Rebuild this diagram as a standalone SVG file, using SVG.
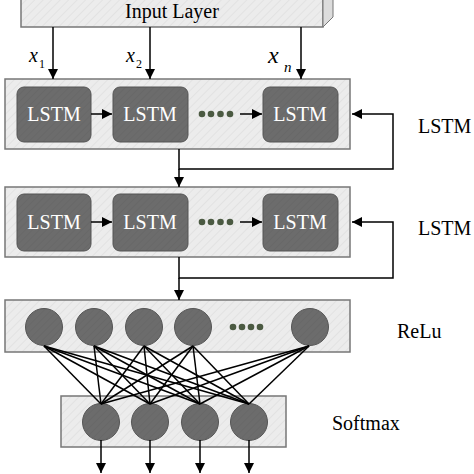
<svg xmlns="http://www.w3.org/2000/svg" width="474" height="474" viewBox="0 0 474 474">
<defs>
<pattern id="hatch" width="6" height="6" patternUnits="userSpaceOnUse" patternTransform="rotate(45)">
<rect width="6" height="6" fill="#ececec"/>
<line x1="0" y1="0" x2="0" y2="6" stroke="#e2e2e2" stroke-width="2"/>
</pattern>
<pattern id="dhatch" width="5" height="5" patternUnits="userSpaceOnUse" patternTransform="rotate(45)">
<rect width="5" height="5" fill="#6c6c6c"/>
<line x1="0" y1="0" x2="0" y2="5" stroke="#666" stroke-width="1.5"/>
</pattern>
<marker id="ah" viewBox="0 0 10 10" refX="10" refY="5" markerWidth="10" markerHeight="10" markerUnits="userSpaceOnUse" orient="auto">
<path d="M0,0 L10,5 L0,10 z" fill="#000"/>
</marker>
</defs>
<style>
.layer{fill:url(#hatch);stroke:#777;stroke-width:1.5}
.cell{fill:url(#dhatch);stroke:#555;stroke-width:1}
.cell-t{font-family:"Liberation Serif","Times New Roman",serif;font-size:20px;fill:#fff;text-anchor:middle}
.lbl{font-family:"Liberation Serif","Times New Roman",serif;font-size:20px;fill:#000}
.neu{fill:url(#dhatch);stroke:#555;stroke-width:1}
.dot{fill:#4b5a42}
.con{stroke:#000;stroke-width:1.5;fill:none}
.arr{stroke:#000;stroke-width:1.5;fill:none;marker-end:url(#ah)}
.xl{font-family:"Liberation Serif","Times New Roman",serif;font-style:italic;fill:#000}
.sub{font-family:"Liberation Serif","Times New Roman",serif;font-style:normal;fill:#000}
</style>

<g id="input-layer">
<rect class="layer" x="21" y="-10" width="302" height="37"/>
<polygon points="323,-10 333,-16 333,17 323,27" fill="#dcdcdc" stroke="#777" stroke-width="1"/>
<text class="lbl" x="172" y="18" font-size="20" text-anchor="middle">Input Layer</text>
</g>

<g id="input-labels">
<text class="xl" x="29" y="62" font-size="20">x</text><text class="sub" x="39" y="68" font-size="12">1</text>
<text class="xl" x="126" y="62" font-size="20">x</text><text class="sub" x="136" y="68" font-size="12">2</text>
<text class="xl" x="268" y="63" font-size="24">x</text><text class="xl" x="284" y="72" font-size="15">n</text>
</g>

<g id="lstm-layer-1">
<rect class="layer" x="5" y="79" width="345" height="70"/>
<rect class="cell" x="17" y="87" width="74" height="55" rx="7"/>
<text class="cell-t" x="54" y="121">LSTM</text>
<rect class="cell" x="113" y="87" width="75" height="55" rx="7"/>
<text class="cell-t" x="150" y="121">LSTM</text>
<rect class="cell" x="263" y="87" width="75" height="55" rx="7"/>
<text class="cell-t" x="300" y="121">LSTM</text>
<circle class="dot" cx="202" cy="114" r="3.3"/><circle class="dot" cx="211" cy="114" r="3.3"/><circle class="dot" cx="220.5" cy="114" r="3.3"/><circle class="dot" cx="230" cy="114" r="3.3"/>
<text class="lbl" x="418" y="133">LSTM</text>
</g>

<g id="lstm-layer-2">
<rect class="layer" x="5" y="187" width="345" height="70"/>
<rect class="cell" x="17" y="194" width="74" height="57" rx="7"/>
<text class="cell-t" x="54" y="229">LSTM</text>
<rect class="cell" x="113" y="194" width="75" height="57" rx="7"/>
<text class="cell-t" x="150" y="229">LSTM</text>
<rect class="cell" x="263" y="194" width="75" height="57" rx="7"/>
<text class="cell-t" x="300" y="229">LSTM</text>
<circle class="dot" cx="202" cy="222" r="3.3"/><circle class="dot" cx="211" cy="222" r="3.3"/><circle class="dot" cx="220.5" cy="222" r="3.3"/><circle class="dot" cx="230" cy="222" r="3.3"/>
<text class="lbl" x="418" y="235">LSTM</text>
</g>

<g id="relu-layer">
<rect class="layer" x="5" y="300" width="345" height="52"/>
<circle class="neu" cx="44" cy="327" r="18.5"/>
<circle class="neu" cx="94" cy="327" r="18.5"/>
<circle class="neu" cx="144" cy="327" r="18.5"/>
<circle class="neu" cx="193" cy="327" r="18.5"/>
<circle class="neu" cx="310" cy="327" r="18.5"/>
<circle class="dot" cx="233" cy="327" r="3.3"/><circle class="dot" cx="242" cy="327" r="3.3"/><circle class="dot" cx="251" cy="327" r="3.3"/><circle class="dot" cx="260" cy="327" r="3.3"/>
<text class="lbl" x="397" y="338" font-size="21">ReLu</text>
</g>

<g id="softmax-layer">
<rect class="layer" x="61" y="396" width="225" height="51"/>
<circle class="neu" cx="101" cy="422" r="18.5"/>
<circle class="neu" cx="150" cy="422" r="18.5"/>
<circle class="neu" cx="200" cy="422" r="18.5"/>
<circle class="neu" cx="249" cy="422" r="18.5"/>
<text class="lbl" x="332" y="430">Softmax</text>
</g>

<g id="connectors">
<line class="arr" x1="53" y1="27" x2="53" y2="79"/>
<line class="arr" x1="150" y1="27" x2="150" y2="79"/>
<line class="arr" x1="301" y1="27" x2="301" y2="79"/>

<line class="arr" x1="91" y1="114" x2="112" y2="114"/>
<line class="arr" x1="240" y1="114" x2="262" y2="114"/>
<polyline class="arr" points="179,149 179,169 393,169 393,114 352,114"/>
<line class="arr" x1="179" y1="169" x2="179" y2="187"/>

<line class="arr" x1="91" y1="222" x2="112" y2="222"/>
<line class="arr" x1="240" y1="222" x2="262" y2="222"/>
<polyline class="arr" points="179,257 179,278 393,278 393,222 352,222"/>
<line class="arr" x1="179" y1="278" x2="179" y2="300"/>

<g class="con">
<line x1="44" y1="346" x2="101" y2="404"/><line x1="44" y1="346" x2="150" y2="404"/><line x1="44" y1="346" x2="200" y2="404"/><line x1="44" y1="346" x2="249" y2="404"/>
<line x1="94" y1="346" x2="101" y2="404"/><line x1="94" y1="346" x2="150" y2="404"/><line x1="94" y1="346" x2="200" y2="404"/><line x1="94" y1="346" x2="249" y2="404"/>
<line x1="144" y1="346" x2="101" y2="404"/><line x1="144" y1="346" x2="150" y2="404"/><line x1="144" y1="346" x2="200" y2="404"/><line x1="144" y1="346" x2="249" y2="404"/>
<line x1="193" y1="346" x2="101" y2="404"/><line x1="193" y1="346" x2="150" y2="404"/><line x1="193" y1="346" x2="200" y2="404"/><line x1="193" y1="346" x2="249" y2="404"/>
<line x1="309" y1="346" x2="101" y2="404"/><line x1="309" y1="346" x2="150" y2="404"/><line x1="309" y1="346" x2="200" y2="404"/><line x1="309" y1="346" x2="249" y2="404"/>
</g>

<line class="arr" x1="101" y1="440" x2="101" y2="473"/>
<line class="arr" x1="150" y1="440" x2="150" y2="473"/>
<line class="arr" x1="200" y1="440" x2="200" y2="473"/>
<line class="arr" x1="249" y1="440" x2="249" y2="473"/>
</g>
</svg>
